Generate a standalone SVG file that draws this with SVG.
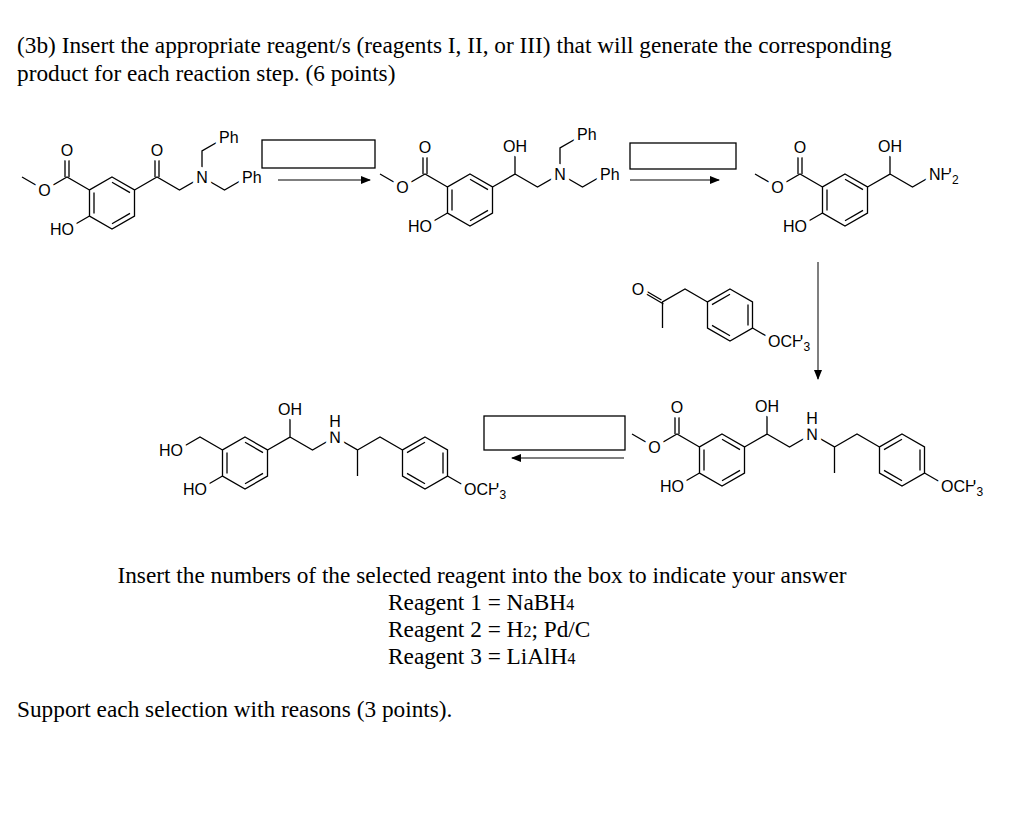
<svg xmlns="http://www.w3.org/2000/svg" xmlns:xlink="http://www.w3.org/1999/xlink" width="1024" height="824" viewBox="0 0 1024 824">
<style>
.b{stroke:#000;stroke-width:1.3;fill:none}
.l{font-family:"Liberation Sans",Arial,sans-serif;font-size:16px;fill:#000;stroke:#fff;stroke-width:9;stroke-linejoin:round;paint-order:stroke;text-anchor:middle}
.s{font-family:"Liberation Sans",Arial,sans-serif;font-size:12px}
.t{font-family:"Liberation Serif","Times New Roman",serif;font-size:23.3px;fill:#000}
.box{fill:#fff;stroke:#000;stroke-width:1.3}
.ar{stroke:#555;stroke-width:1.5;fill:none}
</style>
<defs>
<marker id="ah" markerWidth="10" markerHeight="8" refX="9" refY="4" orient="auto" markerUnits="userSpaceOnUse"><path d="M0,0 L10,4 L0,8 Z" fill="#000"/></marker>
<g id="ring">
<polygon class="b" points="0,-26 22.5,-13 22.5,13 0,26 -22.5,13 -22.5,-13"/>
<line class="b" x1="-18" y1="-10.4" x2="-18" y2="10.4"/>
<line class="b" x1="0" y1="-20.8" x2="18" y2="-10.4"/>
<line class="b" x1="18" y1="10.4" x2="0" y2="20.8"/>
</g>
<g id="para">
<polygon class="b" points="0,-26 22.5,-13 22.5,13 0,26 -22.5,13 -22.5,-13"/>
<line class="b" x1="18" y1="-10.4" x2="18" y2="10.4"/>
<line class="b" x1="-18" y1="-10.4" x2="0" y2="-20.8"/>
<line class="b" x1="-18" y1="10.4" x2="0" y2="20.8"/>
</g>
<g id="core">
<use xlink:href="#ring"/>
<path class="b" d="M-22.5,-13 L-45,-26 L-67.5,-13 L-90,-26 M-47,-26 L-47,-50 M-43,-26 L-43,-50 M-22.5,13 L-45,26"/>
<text class="l" x="-45" y="-47">O</text>
<text class="l" x="-67.5" y="-7">O</text>
<text class="l" x="-38" y="32" style="text-anchor:end">HO</text>
</g>
<g id="amine">
<path class="b" d="M22.5,-13 L45,-26 L45,-52 M45,-26 L67.5,-13 L90,-26 L112.5,-13 L112.5,13 M112.5,-13 L135,-26 L157.5,-13"/>
<text class="l" x="45" y="-48">OH</text>
<text class="l" x="90" y="-20">N</text>
<text class="l" x="90" y="-36">H</text>
<use xlink:href="#para" x="180" y="0"/>
<path class="b" d="M202.5,13 L225,26"/>
<text class="l" x="219" y="32" style="text-anchor:start">OCH<tspan class="s" dy="4">3</tspan></text>
</g>
</defs>

<text class="t" x="17" y="53">(3b) Insert the appropriate reagent/s (reagents I, II, or III) that will generate the corresponding</text>
<text class="t" x="17" y="81">product for each reaction step. (6 points)</text>

<g id="mol1" transform="translate(112,203)">
<use xlink:href="#core"/>
<path class="b" d="M22.5,-13 L45,-26 L67.5,-13 L90,-26 L90,-52 L112.5,-65 M90,-26 L112.5,-13 L135,-26 M43,-26 L43,-50 M47,-26 L47,-50"/>
<text class="l" x="45" y="-47">O</text>
<text class="l" x="90" y="-20">N</text>
<text class="l" x="107" y="-60" style="text-anchor:start">Ph</text>
<text class="l" x="130" y="-20" style="text-anchor:start">Ph</text>
</g>

<g id="mol2" transform="translate(470,200)">
<use xlink:href="#core"/>
<path class="b" d="M22.5,-13 L45,-26 L45,-52 M45,-26 L67.5,-13 L90,-26 L90,-52 L112.5,-65 M90,-26 L112.5,-13 L135,-26"/>
<text class="l" x="45" y="-48">OH</text>
<text class="l" x="90" y="-20">N</text>
<text class="l" x="107" y="-60" style="text-anchor:start">Ph</text>
<text class="l" x="130" y="-20" style="text-anchor:start">Ph</text>
</g>

<g id="mol3" transform="translate(845,200)">
<use xlink:href="#core"/>
<path class="b" d="M22.5,-13 L45,-26 L45,-52 M45,-26 L67.5,-13 L90,-26"/>
<text class="l" x="45" y="-48">OH</text>
<text class="l" x="84" y="-20" style="text-anchor:start">NH<tspan class="s" dy="4">2</tspan></text>
</g>

<g id="ketone" transform="translate(730,315)">
<use xlink:href="#para"/>
<path class="b" d="M-22.5,-13 L-45,-26 L-67.5,-13 L-67.5,13 M-68.5,-15 L-89,-27 M-66.5,-11 L-87,-23 M22.5,13 L45,26"/>
<text class="l" x="-92" y="-20">O</text>
<text class="l" x="38" y="32" style="text-anchor:start">OCH<tspan class="s" dy="4">3</tspan></text>
</g>

<g id="mol4" transform="translate(722,460)">
<use xlink:href="#core"/>
<use xlink:href="#amine"/>
</g>

<g id="mol5" transform="translate(245,463)">
<use xlink:href="#ring"/>
<path class="b" d="M-22.5,-13 L-45,-26 L-67.5,-13 M-22.5,13 L-45,26"/>
<text class="l" x="-62" y="-7" style="text-anchor:end">HO</text>
<text class="l" x="-38" y="32" style="text-anchor:end">HO</text>
<use xlink:href="#amine"/>
</g>

<g id="connectors">
<rect class="box" x="262" y="140" width="113" height="28"/>
<line class="ar" x1="278" y1="180" x2="370" y2="180" marker-end="url(#ah)"/>
<rect class="box" x="630" y="143" width="106" height="26"/>
<line class="ar" x1="630" y1="180" x2="719" y2="180" marker-end="url(#ah)"/>
<line class="ar" x1="818" y1="262" x2="818" y2="379" marker-end="url(#ah)"/>
<rect class="box" x="484" y="416" width="141" height="34"/>
<line class="ar" x1="624" y1="458" x2="512" y2="458" marker-end="url(#ah)"/>
</g>

<text class="t" x="482" y="583" text-anchor="middle">Insert the numbers of the selected reagent into the box to indicate your answer</text>
<text class="t" x="388" y="610">Reagent 1 = NaBH<tspan font-size="16">4</tspan></text>
<text class="t" x="388" y="637">Reagent 2 = H<tspan font-size="16">2</tspan>; Pd/C</text>
<text class="t" x="388" y="664">Reagent 3 = LiAlH<tspan font-size="16">4</tspan></text>
<text class="t" x="17" y="717">Support each selection with reasons (3 points).</text>
</svg>
